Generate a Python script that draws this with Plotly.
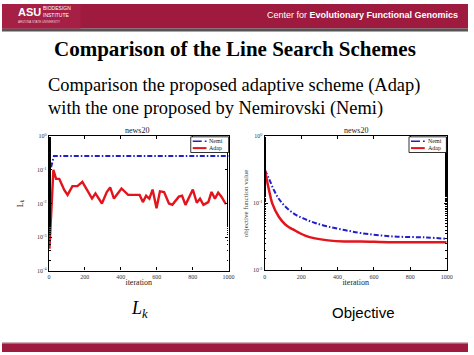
import plotly.graph_objects as go

# ---------------- data ----------------
lk_adap_iter = [0, 3, 25, 40, 58, 86, 104, 131, 159, 186, 213, 240, 259, 295, 322, 341, 362,
                404, 441, 505, 523, 541, 559, 577, 599, 618, 641, 668, 687, 723, 741, 760,
                801, 823, 841, 860, 887, 905, 924, 942, 960, 985]
lk_adap_val = [0.010, 0.00045, 0.100, 0.054, 0.054, 0.025, 0.018, 0.033, 0.033, 0.044, 0.025,
               0.014, 0.020, 0.010, 0.022, 0.030, 0.014, 0.028, 0.018, 0.018, 0.011, 0.017,
               0.014, 0.026, 0.0072, 0.023, 0.022, 0.010, 0.0091, 0.016, 0.017, 0.0091,
               0.026, 0.0105, 0.014, 0.0091, 0.011, 0.022, 0.014, 0.021, 0.016, 0.0095]
lk_nemi_iter = [12, 28, 1000]
lk_nemi_val = [0.12, 0.26, 0.26]

obj_adap_iter = [0, 23, 41, 77, 114, 168, 222, 276, 348, 438, 528, 700, 1000]
obj_adap_val = [0.316, 0.158, 0.100, 0.063, 0.048, 0.039, 0.033, 0.030, 0.028, 0.027, 0.027,
                0.0263, 0.0263]
obj_nemi_iter = [0, 23, 50, 77, 114, 168, 222, 276, 348, 438, 528, 708, 888, 1000]
obj_nemi_val = [0.316, 0.234, 0.158, 0.117, 0.089, 0.068, 0.058, 0.051, 0.045, 0.040, 0.036,
                0.032, 0.031, 0.0295]

series_names = ["Nemi", "Adap"]
x_ticks = [0, 200, 400, 600, 800, 1000]
lk_yticks = [1e-4, 1e-3, 1e-2, 1e-1, 1]
lk_ytext = ["10<sup>-4</sup>", "10<sup>-3</sup>", "10<sup>-2</sup>", "10<sup>-1</sup>", "10<sup>0</sup>"]
obj_yticks = [1e-2, 1e-1, 1]
obj_ytext = ["10<sup>-2</sup>", "10<sup>-1</sup>", "10<sup>0</sup>"]

# ---------------- styling ----------------
W, H = 474, 355
MAROON = "#9e1a3e"
BLUE = "#2020c8"
RED = "#e3141c"
SERIF = "Liberation Serif, Times New Roman, serif"
SANS = "Liberation Sans, Arial, sans-serif"
NEMI_DASH = "5px,2px,1.5px,2px"

def px(x):
    return x / W

def py(y):
    return 1 - y / H

fig = go.Figure()

fig.add_trace(go.Scatter(x=lk_nemi_iter, y=lk_nemi_val, mode="lines", name=series_names[0],
                         line=dict(color=BLUE, width=2, dash=NEMI_DASH),
                         xaxis="x", yaxis="y"))
fig.add_trace(go.Scatter(x=lk_adap_iter, y=lk_adap_val, mode="lines", name=series_names[1],
                         line=dict(color=RED, width=2.4),
                         xaxis="x", yaxis="y"))
fig.add_trace(go.Scatter(x=obj_nemi_iter, y=obj_nemi_val, mode="lines", name=series_names[0],
                         line=dict(color=BLUE, width=2, dash=NEMI_DASH, shape="spline"),
                         xaxis="x2", yaxis="y2"))
fig.add_trace(go.Scatter(x=obj_adap_iter, y=obj_adap_val, mode="lines", name=series_names[1],
                         line=dict(color=RED, width=2.5, shape="spline"),
                         xaxis="x2", yaxis="y2"))

axis_common = dict(showline=True, linecolor="black", linewidth=1.3, mirror="ticks",
                   ticks="inside", ticklen=3, tickcolor="black", showgrid=False,
                   zeroline=False, tickfont=dict(family=SERIF, size=6, color="#333"))

fig.update_layout(
    autosize=True,
    margin=dict(l=0, r=0, t=0, b=0),
    paper_bgcolor="white", plot_bgcolor="white",
    showlegend=False,
    xaxis=dict(domain=[px(47.7), px(230.5)], range=[0, 1000], tickvals=x_ticks,
               title=dict(text="iteration", font=dict(family=SERIF, size=8, color="#222"), standoff=0),
               anchor="y", **axis_common),
    yaxis=dict(domain=[py(272), py(135)], type="log", range=[-4, 0],
               tickvals=lk_yticks, ticktext=lk_ytext,
               minor=dict(ticks="inside", ticklen=1.5, tickcolor="black"),
               title=dict(text="L<sub>k</sub>", font=dict(family=SERIF, size=8, color="#222"), standoff=12),
               anchor="x", **axis_common),
    xaxis2=dict(domain=[px(267.3), px(452.3)], range=[0, 1000], tickvals=x_ticks,
                title=dict(text="iteration", font=dict(family=SERIF, size=8, color="#222"), standoff=0),
                anchor="y2", **axis_common),
    yaxis2=dict(domain=[py(271.7), py(135)], type="log", range=[-2, 0],
                tickvals=obj_yticks, ticktext=obj_ytext,
                minor=dict(ticks="inside", ticklen=1.5, tickcolor="black"),
                title=dict(text="objective function value", font=dict(family=SERIF, size=7, color="#444"), standoff=3),
                anchor="x2", **axis_common),
)

shapes = [
    dict(type="rect", xref="paper", yref="paper", x0=0, x1=1, y0=py(25), y1=1,
         fillcolor=MAROON, line=dict(width=0), layer="below"),
    dict(type="rect", xref="paper", yref="paper", x0=0, x1=1, y0=py(28), y1=py(25),
         fillcolor="#555555", line=dict(width=0), layer="below"),
    dict(type="rect", xref="paper", yref="paper", x0=0, x1=px(80), y0=py(25), y1=1,
         fillcolor="#a61f45", line=dict(width=0), layer="below"),
    dict(type="rect", xref="paper", yref="paper", x0=0, x1=1, y0=0, y1=py(346),
         fillcolor=MAROON, line=dict(width=0), layer="below"),
    dict(type="line", xref="paper", yref="paper", x0=0, x1=1, y0=py(345.5), y1=py(345.5),
         line=dict(color="#c9a0ac", width=1)),
]

ann = [
    dict(text="<b>ASU</b>", x=px(14), y=py(8), xanchor="left", yanchor="middle",
         font=dict(family=SANS, size=11, color="white")),
    dict(text="BIODESIGN<br>INSTITUTE", x=px(40), y=py(8), xanchor="left", yanchor="middle",
         font=dict(family=SANS, size=5, color="white"), align="left"),
    dict(text="ARIZONA STATE UNIVERSITY", x=px(14), y=py(18), xanchor="left", yanchor="middle",
         font=dict(family=SANS, size=3, color="#f0d0d8")),
    dict(text="Center for <b>Evolutionary Functional Genomics</b>", x=px(466), y=py(11),
         xanchor="right", yanchor="middle", font=dict(family=SANS, size=9, color="white")),
    dict(text="<b>Comparison of the Line Search Schemes</b>", x=px(237), y=py(46),
         xanchor="center", yanchor="middle", font=dict(family=SERIF, size=21, color="black")),
    dict(text="Comparison the proposed adaptive scheme (Adap)", x=px(45), y=py(83),
         xanchor="left", yanchor="middle", font=dict(family=SERIF, size=18.4, color="black")),
    dict(text="with the one proposed by Nemirovski (Nemi)", x=px(45), y=py(107),
         xanchor="left", yanchor="middle", font=dict(family=SERIF, size=18.4, color="black")),
    dict(text="news20", x=px(137), y=py(129), xanchor="center", yanchor="middle",
         font=dict(family=SERIF, size=8, color="#222")),
    dict(text="news20", x=px(360), y=py(129), xanchor="center", yanchor="middle",
         font=dict(family=SERIF, size=8, color="#222")),
    dict(text="<i>L</i><sub><i>k</i></sub>", x=px(140), y=py(312), xanchor="center", yanchor="middle",
         font=dict(family=SERIF, size=18, color="black")),
    dict(text="Objective", x=px(368), y=py(315), xanchor="center", yanchor="middle",
         font=dict(family=SANS, size=15, color="black")),
]

# compact MATLAB-style legend boxes (decoration)
for (bx0, bx1) in [(192, 230.5), (414, 452)]:
    shapes.append(dict(type="rect", xref="paper", yref="paper", x0=px(bx0), x1=px(bx1),
                       y0=py(151.5), y1=py(135.5), fillcolor="white",
                       line=dict(color="black", width=0.8)))
    for i, (nm, col, dash, wd) in enumerate([(series_names[0], BLUE, "dashdot", 1.6),
                                             (series_names[1], RED, "solid", 2)]):
        yy = py(140 + i * 7)
        shapes.append(dict(type="line", xref="paper", yref="paper", x0=px(bx0 + 2),
                           x1=px(bx0 + 16), y0=yy, y1=yy,
                           line=dict(color=col, width=wd, dash=dash)))
        ann.append(dict(text=nm, x=px(bx0 + 17), y=yy, xanchor="left", yanchor="middle",
                        font=dict(family=SERIF, size=6, color="#222")))

for a in ann:
    a.update(xref="paper", yref="paper", showarrow=False)
fig.update_layout(shapes=shapes, annotations=ann)

fig.write_html("out.html",
               config={"displayModeBar": False, "responsive": True},
               default_width="100vw", default_height="100vh",
               post_script="document.documentElement.style.overflow='hidden';"
                           "document.documentElement.style.margin='0';"
                           "document.body.style.margin='0';document.body.style.padding='0';"
                           "document.body.style.overflow='hidden';"
                           "var gd=document.getElementById('{plot_id}');"
                           "gd.style.width='474px';gd.style.height='355px';"
                           "Plotly.relayout(gd,{width:474,height:355});")
